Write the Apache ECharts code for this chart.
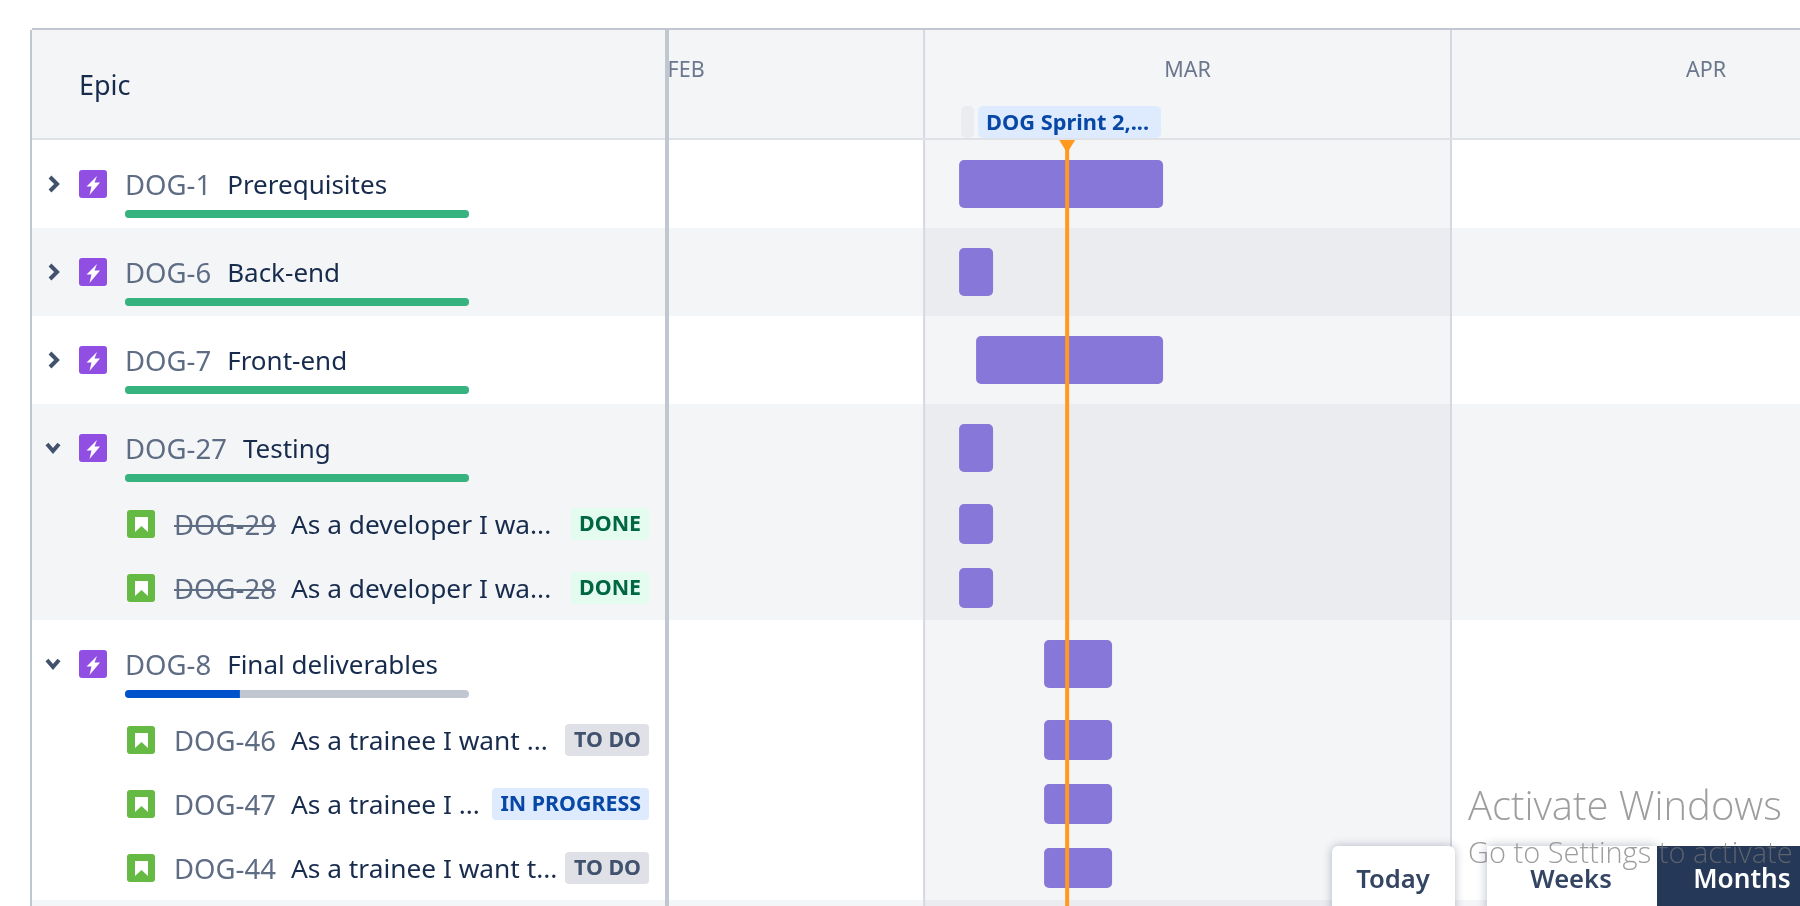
<!DOCTYPE html>
<html><head><meta charset="utf-8">
<style>html,body{margin:0;padding:0;background:#fff}#c{width:1800px;height:906px}</style>
<script src="https://cdn.jsdelivr.net/npm/echarts@6/dist/echarts.min.js"></script>
</head><body><div id="c"></div>
<script>
// ---- data ----
const rowKeys   = ['DOG-1','DOG-6','DOG-7','DOG-27','DOG-29','DOG-28','DOG-8','DOG-46','DOG-47','DOG-44',''];
const rowTitles = ['Prerequisites','Back-end','Front-end','Testing','As a developer I wa...','As a developer I wa...','Final deliverables','As a trainee I want ...','As a trainee I ...','As a trainee I want t...',''];
const rowKinds  = ['epic','epic','epic','epic','story','story','epic','story','story','story','epic'];
const rowStatus = ['','','','','DONE','DONE','','TO DO','IN PROGRESS','TO DO',''];
const rowStart  = ['2023-03-03','2023-03-03','2023-03-04','2023-03-03','2023-03-03','2023-03-03','2023-03-08','2023-03-08','2023-03-08','2023-03-08',null];
const rowEnd    = ['2023-03-15','2023-03-05','2023-03-15','2023-03-05','2023-03-05','2023-03-05','2023-03-12','2023-03-12','2023-03-12','2023-03-12',null];
const rowProgress = [100,100,100,100,null,null,33.4,null,null,null,null];
const monthNames  = ['FEB','MAR','APR'];
const monthStarts = ['2023-02-01','2023-03-01','2023-04-01','2023-05-01'];
const sprintNames = ['','DOG Sprint 2,...'];
const sprintStart = ['2023-03-03','2023-03-04'];
const sprintEnd   = ['2023-03-04','2023-03-15'];
const todayDate   = '2023-03-09T10:00';
const axisMin = '2023-02-13T21:00';
const axisMax = '2023-04-21T12:45';
const headerTitle = 'Epic';

// ---- layout / style ----
const FONT = '"Noto Sans"';
const T = s => new Date(s).getTime();
const H = {epic:88, story:64};
const tops = []; rowKinds.reduce((y,k,i)=>{tops[i]=y;return y+H[k];},140);
const ctx = document.createElement('canvas').getContext('2d');
const tw = (s,f)=>{ctx.font=f;return ctx.measureText(s).width;};
const statusStyle = {'DONE':['#e3fcef','#006644'],'TO DO':['#dfe1e6','#42526e'],'IN PROGRESS':['#deebff','#0747a6']};
const loLeft = {'DONE':571,'TO DO':565,'IN PROGRESS':492};
const yA = i=>({type:'value',gridIndex:i,min:0,max:906,inverse:true,show:false});

function bgRender(p,api){
  const ch=[];
  const l=api.coord([T(axisMin),0])[0], r=api.coord([T(axisMax),0])[0];
  const yOf=v=>api.coord([T(axisMin),v])[1];
  const mx=monthStarts.map(m=>api.coord([T(m),0])[0]);
  const mS=mx[1], mE=mx[2];
  ch.push({type:'rect',shape:{x:l,y:yOf(29),width:r-l,height:110},style:{fill:'#f4f5f7'}});
  let epicIdx=-1;
  rowKinds.forEach((k,i)=>{
    if(k==='epic')epicIdx++;
    const odd=epicIdx%2===1;
    const y=yOf(tops[i]),h=yOf(tops[i]+H[k])-y;
    if(odd) ch.push({type:'rect',shape:{x:l,y,width:r-l,height:h},style:{fill:'#f4f5f7'}});
    ch.push({type:'rect',shape:{x:mS,y,width:mE-mS,height:h},style:{fill:odd?'#ebecf0':'#f4f5f7'}});
  });
  mx.forEach(x=>{ if(x>=l&&x<=r) ch.push({type:'rect',shape:{x:x-1,y:yOf(29),width:2,height:yOf(906)-yOf(29)},style:{fill:'#d5d8e2'}}); });
  ch.push({type:'rect',shape:{x:l,y:yOf(138),width:r-l,height:2},style:{fill:'#dfe1e6'}});
  ch.push({type:'rect',shape:{x:l,y:yOf(28),width:r-l,height:2},style:{fill:'#c1c7d0'}});
  monthNames.forEach((m,i)=>{
    ch.push({type:'text',x:(mx[i]+mx[i+1])/2,y:yOf(71),style:{text:m,fill:'#6b778c',font:'400 21.5px '+FONT,align:'center',verticalAlign:'middle'}});
  });
  sprintNames.forEach((s,i)=>{
    const a=api.coord([T(sprintStart[i]),0])[0]+3,b=api.coord([T(sprintEnd[i]),0])[0]-1;
    ch.push({type:'rect',shape:{x:a,y:yOf(106),width:b-a,height:32,r:5},style:{fill:s?'#deebff':'#ebecf0'}});
    if(s)ch.push({type:'text',x:a+8,y:yOf(124),style:{text:s,fill:'#0747a6',font:'700 21.8px '+FONT,align:'left',verticalAlign:'middle'}});
  });
  return {type:'group',children:ch};
}
function barRender(p,api){
  const i=api.value(2);
  const a=api.coord([api.value(0),0])[0],b=api.coord([api.value(1),0])[0];
  const k=rowKinds[i], off=k==='epic'?20:12, h=k==='epic'?48:40;
  const y=api.coord([api.value(0),tops[i]+off])[1], y2=api.coord([api.value(0),tops[i]+off+h])[1];
  return {type:'rect',shape:{x:a+1,y,width:b-a,height:y2-y,r:5},style:{fill:'#8777d9'}};
}
function todayRender(p,api){
  const x=api.coord([api.value(0),0])[0], y0=api.coord([api.value(0),140])[1], y1=api.coord([api.value(0),906])[1];
  return {type:'group',children:[
    {type:'rect',shape:{x:x-2,y:y0,width:4,height:y1-y0},style:{fill:'#ff991f'}},
    {type:'polygon',shape:{points:[[x-8,y0],[x+8,y0],[x,y0+13]]},style:{fill:'#ff991f'}}
  ]};
}
function panelRender(p,api){
  const ch=[];
  const yOf=v=>api.coord([0,v])[1];
  const idF='400 27.5px '+FONT, tF='400 26px '+FONT;
  ch.push({type:'rect',shape:{x:30,y:yOf(28),width:637,height:878},style:{fill:'#fff'}});
  ch.push({type:'rect',shape:{x:30,y:yOf(28),width:637,height:111,r:[5,0,0,0]},style:{fill:'#f4f5f7'}});
  ch.push({type:'rect',shape:{x:30,y:yOf(138),width:637,height:2},style:{fill:'#dfe1e6'}});
  ch.push({type:'text',x:79,y:yOf(87),style:{text:headerTitle,fill:'#172b4d',font:'400 27px '+FONT,align:'left',verticalAlign:'middle'}});
  let e=-1;
  rowKinds.forEach((k,i)=>{
    if(k==='epic')e++;
    const y=yOf(tops[i]),h=H[k];
    if(e%2===1)ch.push({type:'rect',shape:{x:30,y,width:637,height:h},style:{fill:'#f4f5f7'}});
  });
  ch.push({type:'rect',shape:{x:30,y:yOf(30),width:2,height:876},style:{fill:'#c1c7d0'}});
  ch.push({type:'rect',shape:{x:32,y:yOf(28),width:635,height:2},style:{fill:'#c1c7d0'}});
  ch.push({type:'rect',shape:{x:665,y:yOf(28),width:4,height:878},style:{fill:'#c1c7d0'}});
  rowKeys.forEach((key,i)=>{
    if(!key)return;
    const y=yOf(tops[i]),k=rowKinds[i];
    if(k==='epic'){
      const expanded=rowKinds[i+1]==='story';
      ch.push({type:'polyline',shape:{points:expanded?[[47,y+40],[53,y+47],[59,y+40]]:[[50,y+37],[57,y+44],[50,y+51]]},style:{stroke:'#42526e',fill:null,lineWidth:4}});
      ch.push({type:'rect',shape:{x:79,y:y+30,width:28,height:28,r:3},style:{fill:'#904ee2'}});
      ch.push({type:'polygon',shape:{points:[[97,y+36],[86.5,y+46.5],[91.5,y+46.5],[89.5,y+55],[100,y+42.5],[94.5,y+42.5]]},style:{fill:'#fff'}});
      const w=tw(key,idF);
      ch.push({type:'text',x:125,y:y+47,style:{text:key,fill:'#5e6c84',font:idF,align:'left',verticalAlign:'middle'}});
      ch.push({type:'text',x:125+w+16,y:y+47,style:{text:rowTitles[i],fill:'#172b4d',font:tF,align:'left',verticalAlign:'middle'}});
    }else{
      ch.push({type:'rect',shape:{x:127,y:y+18,width:28,height:28,r:3},style:{fill:'#65ba43'}});
      ch.push({type:'polygon',shape:{points:[[135,y+25],[148,y+25],[148,y+40],[141.5,y+34],[135,y+40]]},style:{fill:'#fff'}});
      const w=tw(key,idF), st=rowStatus[i], sty=statusStyle[st];
      ch.push({type:'text',x:174,y:y+35,style:{text:key,fill:'#5e6c84',font:idF,align:'left',verticalAlign:'middle'}});
      if(st==='DONE')ch.push({type:'rect',shape:{x:174,y:y+33,width:w,height:2},style:{fill:'#5e6c84'}});
      ch.push({type:'text',x:291,y:y+35,style:{text:rowTitles[i],fill:'#172b4d',font:'400 26.3px '+FONT,align:'left',verticalAlign:'middle'}});
      ch.push({type:'rect',shape:{x:loLeft[st],y:y+16,width:649-loLeft[st],height:32,r:4},style:{fill:sty[0]}});
      ch.push({type:'text',x:641,y:y+33,style:{text:st,fill:sty[1],font:'700 21.4px '+FONT,align:'right',verticalAlign:'middle'}});
    }
  });
  return {type:'group',children:ch};
}
function progressRender(p,api){
  const v=api.value(0),i=api.value(1);
  const y=api.coord([0,tops[i]+70])[1],y2=api.coord([0,tops[i]+78])[1];
  const a=api.coord([0,0])[0],b=api.coord([100,0])[0],m=api.coord([v,0])[0];
  const ch=[{type:'rect',shape:{x:a,y,width:b-a,height:y2-y,r:4},style:{fill:'#c1c7d0'}}];
  ch.push({type:'rect',shape:{x:a,y,width:m-a,height:y2-y,r:v>=100?4:[4,0,0,4]},style:{fill:v>=100?'#36b37e':'#0052cc'}});
  return {type:'group',children:ch};
}

const barData=[];rowKeys.forEach((k,i)=>{if(rowStart[i])barData.push([T(rowStart[i]),T(rowEnd[i]),i]);});
const progData=[];rowProgress.forEach((v,i)=>{if(v!==null)progData.push([v,i]);});

const btnFont='600 25.6px '+FONT;
const chart=echarts.init(document.getElementById('c'),null,{renderer:'canvas'});
chart.setOption({
  animation:false,
  grid:[{left:667,right:0,top:0,height:906},{left:125,width:344,top:0,height:906}],
  xAxis:[{type:'time',gridIndex:0,min:T(axisMin),max:T(axisMax),show:false},
         {type:'value',gridIndex:1,min:0,max:100,show:false}],
  yAxis:[yA(0),yA(1)],
  series:[
    {type:'custom',z:1,xAxisIndex:0,yAxisIndex:0,clip:false,silent:true,renderItem:bgRender,data:[[T(axisMin),0]]},
    {type:'custom',z:2,xAxisIndex:0,yAxisIndex:0,clip:false,silent:true,renderItem:barRender,data:barData,encode:{x:[0,1]}},
    {type:'custom',z:3,xAxisIndex:0,yAxisIndex:0,clip:false,silent:true,renderItem:todayRender,data:[[T(todayDate)]],encode:{x:0}},
    {type:'custom',z:4,xAxisIndex:1,yAxisIndex:1,clip:false,silent:true,renderItem:panelRender,data:[[0,0]]},
    {type:'custom',z:5,xAxisIndex:1,yAxisIndex:1,clip:false,silent:true,renderItem:progressRender,data:progData,encode:{x:0}}
  ],
  graphic:[
    {type:'rect',z:20,shape:{x:1332,y:846,width:123,height:70,r:[6,6,0,0]},style:{fill:'#fff',shadowBlur:10,shadowColor:'rgba(9,30,66,.3)'}},
    {type:'text',z:21,x:1393,y:881,style:{text:'Today',fill:'#344563',font:btnFont,align:'center',verticalAlign:'middle'}},
    {type:'rect',z:20,shape:{x:1487,y:846,width:170,height:70},style:{fill:'#fff',shadowBlur:10,shadowColor:'rgba(9,30,66,.3)'}},
    {type:'text',z:21,x:1571,y:881,style:{text:'Weeks',fill:'#344563',font:btnFont,align:'center',verticalAlign:'middle'}},
    {type:'rect',z:22,shape:{x:1657,y:846,width:143,height:70},style:{fill:'#253858'}},
    {type:'text',z:23,x:1742,y:881,style:{text:'Months',fill:'#fff',font:'600 26.2px '+FONT,align:'center',verticalAlign:'middle'}},
    {type:'text',z:30,x:1468,y:809,style:{text:'Activate Windows',fill:'rgba(115,115,115,.7)',font:'300 40px "Open Sans"',align:'left',verticalAlign:'middle'}},
    {type:'text',z:30,x:1468,y:855,style:{text:'Go to Settings to activate',fill:'rgba(115,115,115,.7)',font:'300 29px "Open Sans"',align:'left',verticalAlign:'middle'}}
  ]
});
</script></body></html>
